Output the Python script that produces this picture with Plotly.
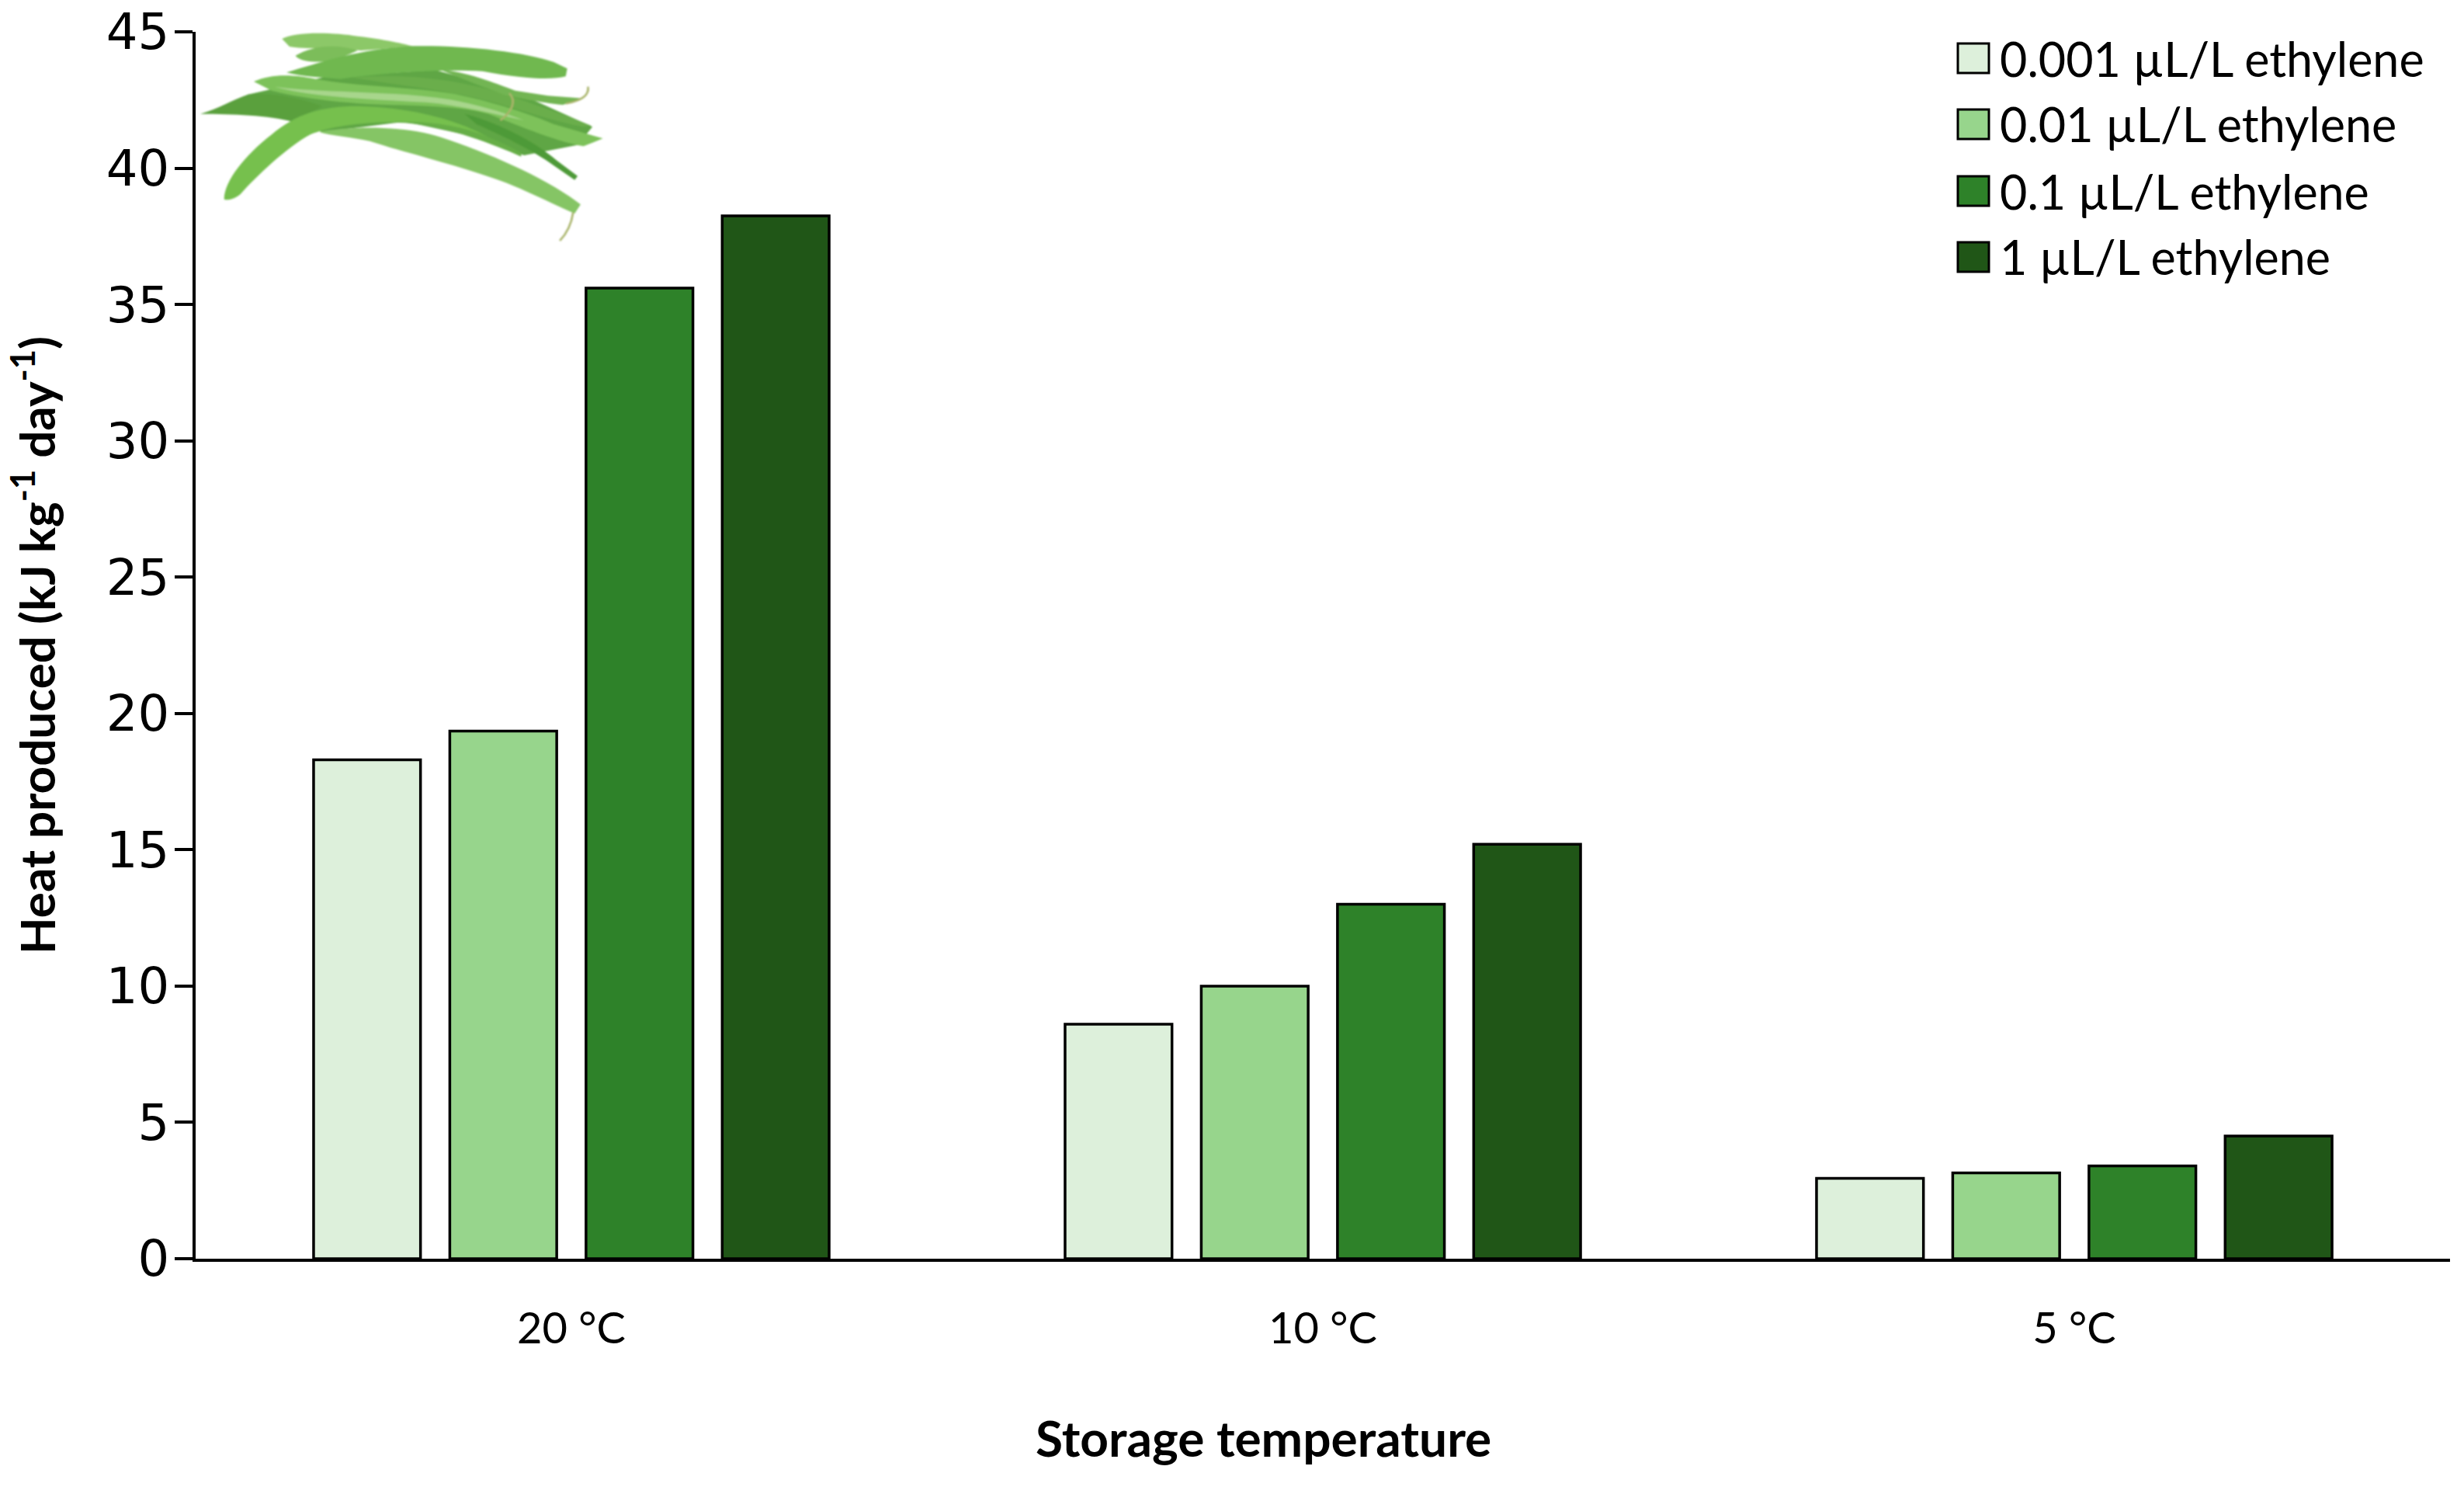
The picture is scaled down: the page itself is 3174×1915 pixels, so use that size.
import base64
import plotly.graph_objects as go

W = 3174
H = 1915
L, R, T, B = 252, 18, 41, 294

categories = ["20 °C", "10 °C", "5 °C"]
series_names = ["0.001 µL/L ethylene", "0.01 µL/L ethylene", "0.1 µL/L ethylene", "1 µL/L ethylene"]
series_colors = ["#DDF0DB", "#97D58C", "#2E8229", "#205617"]
low_dose = [18.3, 8.6, 2.95]
mid_low_dose = [19.35, 10.0, 3.15]
mid_high_dose = [35.6, 13.0, 3.4]
high_dose = [38.25, 15.2, 4.5]
series_values = [low_dose, mid_low_dose, mid_high_dose, high_dose]
y_ticks = [0, 5, 10, 15, 20, 25, 30, 35, 40, 45]


def px(x):
    return (x - L) / (W - L - R)


def py(y):
    return 1 - (y - T) / (H - T - B)


# hand drawn stand-in for the photo of beans, coordinates in a 1568x1020 box
beans = """
<svg xmlns="http://www.w3.org/2000/svg" width="1568" height="1020" viewBox="0 0 1568 1020" preserveAspectRatio="none">
<defs><filter id="b"><feGaussianBlur stdDeviation="2.5"/></filter></defs>
<g filter="url(#b)">
<path fill="#5EA644" d="M270,365 L520,300 L900,270 L1180,360 L1430,490 L1380,560 L1200,600 L1000,520 L800,470 L520,510 L420,470 Z"/>
<path fill="#8CC868" d="M385,150 C430,120 560,125 640,140 C720,150 800,170 830,180 L650,195 C580,185 450,190 410,180 Z"/>
<path fill="#7CBD5A" d="M430,215 C480,180 560,165 640,195 L560,235 C520,240 450,245 430,215 Z"/>
<path fill="#6AAE4C" d="M620,300 C800,280 1000,310 1150,370 C1250,410 1350,450 1425,485 L1400,490 C1300,470 1180,420 1080,390 C950,350 780,330 620,300 Z"/>
<path fill="#72B552" d="M920,270 C1000,275 1100,320 1170,350 L1280,370 L1400,380 L1330,405 C1250,395 1170,375 1130,365 C1050,330 980,300 920,270 Z"/>
<path fill="#6FB84F" d="M400,280 C520,240 640,190 830,178 C1000,175 1200,200 1300,240 L1345,265 L1340,295 C1290,310 1200,305 1060,275 C900,265 700,285 580,305 C520,300 450,295 400,280 Z"/>
<path fill="#5AA03E" d="M110,440 C170,420 220,385 270,365 C350,355 450,380 520,410 L420,470 C340,445 220,440 110,440 Z"/>
<path fill="#4E9A38" d="M1000,440 C1100,470 1230,540 1310,620 L1380,680 L1370,695 L1300,640 C1230,580 1120,520 1040,480 Z"/>
<path fill="#85C565" d="M510,510 C600,490 780,480 920,530 C1080,590 1280,690 1390,790 L1370,825 C1280,780 1180,720 1100,690 C950,630 800,590 680,545 C620,530 550,525 510,510 Z"/>
<path fill="#66AE46" d="M480,520 C640,430 950,430 1190,590 L1190,605 C1100,560 950,490 800,475 C650,470 540,490 480,520 Z"/>
<path fill="#76C04E" d="M190,770 C190,700 260,600 350,520 C430,440 520,410 640,410 C800,415 950,450 1080,530 C1000,490 900,470 800,470 C650,470 540,490 480,520 C400,570 300,680 245,750 C225,770 200,775 190,770 Z"/>
<path fill="#7DC25A" d="M290,315 C350,285 420,285 520,310 C650,335 800,335 950,360 C1050,380 1200,430 1300,480 L1465,535 L1400,565 C1300,545 1150,470 1080,440 C980,410 870,410 750,405 C600,400 450,380 350,350 Z"/>
<path fill="#A8D68C" d="M360,335 C520,360 760,350 950,385 C1040,405 1120,430 1200,465 C1100,440 980,405 870,395 C700,385 480,375 360,335 Z"/>
<g fill="none" stroke="#A9B46A" stroke-width="7">
<path d="M1150,360 C1175,390 1160,430 1120,465"/>
<path d="M1365,820 C1360,860 1345,900 1320,930"/>
<path d="M1340,400 C1390,390 1420,370 1415,335"/>
</g>
</g>
</svg>
"""
beans_uri = "data:image/svg+xml;base64," + base64.b64encode(beans.encode()).decode()

fig = go.Figure()
for name, values, color in zip(series_names, series_values, series_colors):
    fig.add_trace(go.Bar(x=categories, y=values, name=name, showlegend=False,
                         marker=dict(color=color, line=dict(color="black", width=3.5))))

# legend is built by hand, native bar swatches can't be made this big
legend_rows = [75, 160, 246, 331]
shapes = []
annotations = []
for name, color, row in zip(series_names, series_colors, legend_rows):
    shapes.append(dict(type="rect", xref="paper", yref="paper",
                       x0=px(2522), x1=px(2562), y0=py(row - 19), y1=py(row + 19),
                       fillcolor=color, line=dict(color="black", width=3)))
    annotations.append(dict(text=name, xref="paper", yref="paper", x=px(2574), y=py(row),
                            xanchor="left", yanchor="middle", showarrow=False,
                            font=dict(family="Lato", size=61, color="black")))

annotations.append(dict(text="<b>Storage temperature</b>", xref="paper", yref="paper",
                        x=px(1627), y=py(1852), xanchor="center", yanchor="middle", showarrow=False,
                        font=dict(family="Lato", size=64, color="black")))

fig.update_layout(
    width=W, height=H, autosize=False,
    margin=dict(l=L, r=R, t=T, b=B),
    plot_bgcolor="white", paper_bgcolor="white",
    barmode="group", bargap=0.275, bargroupgap=0.215,
    shapes=shapes, annotations=annotations,
    images=[dict(source=beans_uri, xref="paper", yref="paper",
                 x=px(216), y=py(0), sizex=600 / (W - L - R), sizey=340 / (H - T - B),
                 xanchor="left", yanchor="top", sizing="stretch", layer="above")],
    xaxis=dict(type="category", range=[-0.5, 2.5], showline=True, linecolor="black", linewidth=4,
               ticks="", showgrid=False, ticklabelstandoff=38, automargin=False,
               tickfont=dict(family="Lato", size=56, color="black")),
    yaxis=dict(range=[0, 45], tickvals=y_ticks, showline=True, linecolor="black", linewidth=4,
               ticks="outside", ticklen=23, tickwidth=4, tickcolor="black", showgrid=False, zeroline=False,
               ticklabelstandoff=-6, automargin=False,
               tickfont=dict(family="DejaVu Sans", size=64, color="black"),
               title=dict(text="<b>Heat produced (kJ kg<sup>-1</sup> day<sup>-1</sup>)</b>", standoff=46,
                          font=dict(family="Lato", size=62, color="black"))),
)

fig.write_html("out.html", config=dict(displayModeBar=False),
               post_script="document.body.style.margin = '0';")
